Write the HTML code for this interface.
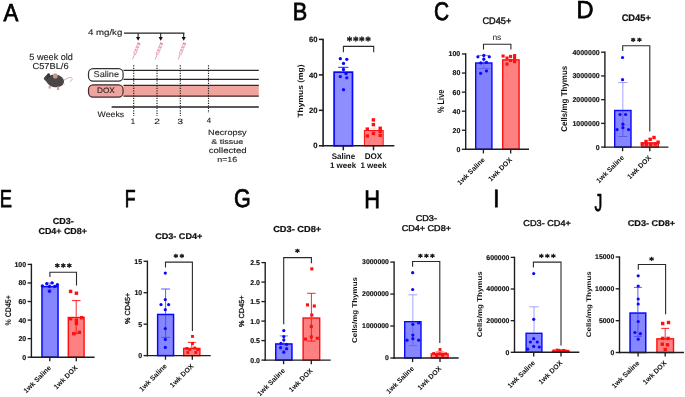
<!DOCTYPE html>
<html><head><meta charset="utf-8"><style>
html,body{margin:0;padding:0;background:#fff;}
svg{display:block;font-family:"Liberation Sans", Arial, sans-serif;text-rendering:geometricPrecision;}
</style></head><body>
<svg width="685" height="397" viewBox="0 0 685 397">
<rect width="685" height="397" fill="#fff"/>
<text transform="translate(3.60 21.00) scale(0.904 1)" font-size="24.64" fill="#000" stroke="#000" stroke-width="0.75">A</text>
<text x="87.93" y="34.97" font-size="8.15" font-weight="normal" text-anchor="start" fill="#1a1a1a" textLength="34.40" lengthAdjust="spacingAndGlyphs" stroke="#222" stroke-width="0.12">4 mg/kg</text>
<line x1="124.00" y1="33.10" x2="184.40" y2="33.10" stroke="#222" stroke-width="1.3" />
<line x1="138.10" y1="33.10" x2="138.10" y2="37.60" stroke="#222" stroke-width="1.1" />
<polygon points="136.00,36.9 140.20,36.9 138.10,40.7" fill="#111"/>
<line x1="160.70" y1="33.10" x2="160.70" y2="37.60" stroke="#222" stroke-width="1.1" />
<polygon points="158.60,36.9 162.80,36.9 160.70,40.7" fill="#111"/>
<line x1="183.70" y1="33.10" x2="183.70" y2="37.60" stroke="#222" stroke-width="1.1" />
<polygon points="181.60,36.9 185.80,36.9 183.70,40.7" fill="#111"/>
<g transform="translate(139.00 43.0) rotate(21.5)"><rect x="-1.1" y="0.8" width="2.2" height="11.2" fill="#fbe6ec" stroke="#c83a63" stroke-width="0.5" stroke-dasharray="1.1 0.7"/><line x1="-1.6" y1="0.4" x2="1.6" y2="0.4" stroke="#c83a63" stroke-width="0.6"/><line x1="-0.9" y1="4.5" x2="0.9" y2="4.5" stroke="#d4567c" stroke-width="0.5"/><line x1="-0.9" y1="8" x2="0.9" y2="8" stroke="#d4567c" stroke-width="0.5"/><line x1="0" y1="12" x2="0" y2="17.6" stroke="#d06a8a" stroke-width="0.55"/></g>
<g transform="translate(161.60 43.0) rotate(21.5)"><rect x="-1.1" y="0.8" width="2.2" height="11.2" fill="#fbe6ec" stroke="#c83a63" stroke-width="0.5" stroke-dasharray="1.1 0.7"/><line x1="-1.6" y1="0.4" x2="1.6" y2="0.4" stroke="#c83a63" stroke-width="0.6"/><line x1="-0.9" y1="4.5" x2="0.9" y2="4.5" stroke="#d4567c" stroke-width="0.5"/><line x1="-0.9" y1="8" x2="0.9" y2="8" stroke="#d4567c" stroke-width="0.5"/><line x1="0" y1="12" x2="0" y2="17.6" stroke="#d06a8a" stroke-width="0.55"/></g>
<g transform="translate(184.60 43.0) rotate(21.5)"><rect x="-1.1" y="0.8" width="2.2" height="11.2" fill="#fbe6ec" stroke="#c83a63" stroke-width="0.5" stroke-dasharray="1.1 0.7"/><line x1="-1.6" y1="0.4" x2="1.6" y2="0.4" stroke="#c83a63" stroke-width="0.6"/><line x1="-0.9" y1="4.5" x2="0.9" y2="4.5" stroke="#d4567c" stroke-width="0.5"/><line x1="-0.9" y1="8" x2="0.9" y2="8" stroke="#d4567c" stroke-width="0.5"/><line x1="0" y1="12" x2="0" y2="17.6" stroke="#d06a8a" stroke-width="0.55"/></g>
<line x1="123.50" y1="70.40" x2="258.80" y2="70.40" stroke="#2a2a2a" stroke-width="1.2" />
<line x1="123.50" y1="79.40" x2="258.80" y2="79.40" stroke="#2a2a2a" stroke-width="1.2" />
<rect x="123.50" y="85.00" width="135.30" height="11.40" fill="#efa59e" stroke="none" stroke-width="0" />
<line x1="123.50" y1="85.40" x2="258.80" y2="85.40" stroke="#3a2828" stroke-width="1.2" />
<line x1="123.50" y1="96.10" x2="258.80" y2="96.10" stroke="#3a2828" stroke-width="1.3" />
<rect x="88.5" y="68.7" width="34.6" height="12.5" rx="4.6" fill="#fff" stroke="#333" stroke-width="1.2"/>
<rect x="88.5" y="84.8" width="34.6" height="12.3" rx="4.6" fill="#efa59e" stroke="#3a2a2a" stroke-width="1.2"/>
<text x="93.56" y="77.40" font-size="8.46" font-weight="normal" text-anchor="start" fill="#333" textLength="25.47" lengthAdjust="spacingAndGlyphs" stroke="#222" stroke-width="0.12">Saline</text>
<text x="97.07" y="93.00" font-size="7.83" font-weight="normal" text-anchor="start" fill="#2a1a1a" textLength="17.74" lengthAdjust="spacingAndGlyphs" stroke="#222" stroke-width="0.12">DOX</text>
<line x1="111.60" y1="107.00" x2="258.80" y2="107.00" stroke="#222" stroke-width="1.3" />
<text x="97.63" y="117.10" font-size="8.05" font-weight="normal" text-anchor="start" fill="#222" textLength="26.48" lengthAdjust="spacingAndGlyphs" stroke="#222" stroke-width="0.12">Weeks</text>
<line x1="133.70" y1="65.20" x2="133.70" y2="115.90" stroke="#222" stroke-width="1.15" stroke-dasharray="1.3 1.2"/>
<line x1="157.00" y1="65.20" x2="157.00" y2="115.90" stroke="#222" stroke-width="1.15" stroke-dasharray="1.3 1.2"/>
<line x1="180.30" y1="65.20" x2="180.30" y2="115.90" stroke="#222" stroke-width="1.15" stroke-dasharray="1.3 1.2"/>
<line x1="208.50" y1="65.20" x2="208.50" y2="112.90" stroke="#222" stroke-width="1.15" stroke-dasharray="1.3 1.2"/>
<text x="130.89" y="124.48" font-size="7.77" font-weight="normal" text-anchor="start" fill="#222" textLength="4.35" lengthAdjust="spacingAndGlyphs" stroke="#222" stroke-width="0.12">1</text>
<text x="154.21" y="124.48" font-size="7.66" font-weight="normal" text-anchor="start" fill="#222" textLength="5.64" lengthAdjust="spacingAndGlyphs" stroke="#222" stroke-width="0.12">2</text>
<text x="177.42" y="124.40" font-size="7.55" font-weight="normal" text-anchor="start" fill="#222" textLength="5.52" lengthAdjust="spacingAndGlyphs" stroke="#222" stroke-width="0.12">3</text>
<text x="206.76" y="122.96" font-size="7.59" font-weight="normal" text-anchor="start" fill="#222" textLength="4.32" lengthAdjust="spacingAndGlyphs" stroke="#222" stroke-width="0.12">4</text>
<text x="208.09" y="134.76" font-size="7.73" font-weight="normal" text-anchor="start" fill="#222" textLength="38.63" lengthAdjust="spacingAndGlyphs" stroke="#222" stroke-width="0.12">Necropsy</text>
<text x="211.36" y="143.91" font-size="6.84" font-weight="normal" text-anchor="start" fill="#222" textLength="31.84" lengthAdjust="spacingAndGlyphs" stroke="#222" stroke-width="0.12">&amp; tissue</text>
<text x="208.74" y="152.60" font-size="7.78" font-weight="normal" text-anchor="start" fill="#222" textLength="37.89" lengthAdjust="spacingAndGlyphs" stroke="#222" stroke-width="0.12">collected</text>
<text x="217.20" y="161.61" font-size="7.41" font-weight="normal" text-anchor="start" fill="#222" textLength="20.06" lengthAdjust="spacingAndGlyphs" stroke="#222" stroke-width="0.12">n=16</text>
<text x="29.36" y="59.79" font-size="9.14" font-weight="normal" text-anchor="start" fill="#222" textLength="43.58" lengthAdjust="spacingAndGlyphs" stroke="#222" stroke-width="0.12">5 week old</text>
<text x="32.56" y="68.79" font-size="8.73" font-weight="normal" text-anchor="start" fill="#222" textLength="36.01" lengthAdjust="spacingAndGlyphs" stroke="#222" stroke-width="0.12">C57BL/6</text>
<g>
<path d="M63.4,80.3 C66,79.4 67.8,77.6 70.4,77.5 C72.8,77.5 73.0,79.6 70.0,81.7" fill="none" stroke="#d9aeab" stroke-width="1.0"/>
<path d="M43.8,78.3 C45.0,76.2 46.6,74.6 48.3,74.0 L50.4,75.4 C52.4,74.4 55.2,74.0 58.2,75.1 C61.8,76.4 64.0,78.9 64.0,81.6 C64.0,84.6 61.6,86.6 58.6,87.0 C55.6,87.4 52.4,86.8 50.4,85.9 C48.3,84.6 46.8,82.4 45.6,80.8 C44.5,80.0 43.6,79.3 43.8,78.3 Z" fill="#4b4646"/>
<ellipse cx="55.3" cy="75.9" rx="2.3" ry="2.7" fill="#c79a97"/>
<ellipse cx="48.6" cy="75.4" rx="1.6" ry="2.1" fill="#3a3535"/>
<circle cx="47.4" cy="77.9" r="0.5" fill="#111"/>
<path d="M48.9,85.4 L48.5,88.4 L50.9,88.4 L50.6,85.8 Z" fill="#caa09d"/>
<path d="M57.2,86.6 L57.0,89.9 L59.3,89.9 L59.0,86.6 Z" fill="#caa09d"/>
<path d="M63.0,83.2 L64.6,84.4" stroke="#caa09d" stroke-width="0.8"/>
</g>
<text transform="translate(292.86 19.50) scale(0.876 1)" font-size="24.78" fill="#000" stroke="#000" stroke-width="0.75">B</text>
<line x1="343.30" y1="71.30" x2="343.30" y2="67.30" stroke="#0808ff" stroke-width="0.9" />
<line x1="338.20" y1="67.30" x2="348.40" y2="67.30" stroke="#0808ff" stroke-width="0.9" />
<rect x="334.10" y="72.15" width="18.40" height="73.65" fill="#8e8eff" stroke="#0808ff" stroke-width="1.7" />
<circle cx="340.30" cy="58.70" r="1.65" fill="#0808ff"/>
<circle cx="346.80" cy="59.30" r="1.65" fill="#0808ff"/>
<circle cx="343.50" cy="63.40" r="1.65" fill="#0808ff"/>
<circle cx="343.50" cy="69.50" r="1.65" fill="#0808ff"/>
<circle cx="346.00" cy="73.60" r="1.65" fill="#0808ff"/>
<circle cx="340.30" cy="76.60" r="1.65" fill="#0808ff"/>
<circle cx="346.80" cy="77.80" r="1.65" fill="#0808ff"/>
<circle cx="343.50" cy="89.70" r="1.65" fill="#0808ff"/>
<line x1="373.80" y1="130.00" x2="373.80" y2="128.30" stroke="#ffd6d6" stroke-width="0.9" />
<line x1="369.80" y1="128.30" x2="377.80" y2="128.30" stroke="#ffd6d6" stroke-width="0.9" />
<rect x="364.40" y="130.50" width="18.80" height="15.30" fill="#ff8080" stroke="#ff1010" stroke-width="1.0" />
<rect x="371.70" y="118.20" width="3.40" height="3.40" fill="#ff1010" stroke="none" stroke-width="0" />
<rect x="371.70" y="122.90" width="3.40" height="3.40" fill="#ff1010" stroke="none" stroke-width="0" />
<rect x="365.60" y="127.40" width="3.40" height="3.40" fill="#ff1010" stroke="none" stroke-width="0" />
<rect x="378.50" y="126.60" width="3.40" height="3.40" fill="#ff1010" stroke="none" stroke-width="0" />
<rect x="378.50" y="129.70" width="3.40" height="3.40" fill="#ff1010" stroke="none" stroke-width="0" />
<rect x="371.70" y="131.70" width="3.40" height="3.40" fill="#ff1010" stroke="none" stroke-width="0" />
<rect x="365.60" y="134.30" width="3.40" height="3.40" fill="#ff1010" stroke="none" stroke-width="0" />
<rect x="378.50" y="133.70" width="3.40" height="3.40" fill="#ff1010" stroke="none" stroke-width="0" />
<line x1="323.10" y1="38.64" x2="323.10" y2="146.60" stroke="#1e1e1e" stroke-width="1.6" />
<line x1="322.30" y1="145.80" x2="394.40" y2="145.80" stroke="#1e1e1e" stroke-width="1.6" />
<line x1="318.90" y1="145.80" x2="323.10" y2="145.80" stroke="#1e1e1e" stroke-width="1.52" />
<text x="317.56" y="148.46" font-size="7.70" font-weight="bold" text-anchor="end" fill="#111" stroke="#111" stroke-width="0.15">0</text>
<line x1="318.90" y1="110.33" x2="323.10" y2="110.33" stroke="#1e1e1e" stroke-width="1.52" />
<text x="317.53" y="112.99" font-size="7.70" font-weight="bold" text-anchor="end" fill="#111" stroke="#111" stroke-width="0.15">20</text>
<line x1="318.90" y1="74.87" x2="323.10" y2="74.87" stroke="#1e1e1e" stroke-width="1.52" />
<text x="317.53" y="77.52" font-size="7.70" font-weight="bold" text-anchor="end" fill="#111" stroke="#111" stroke-width="0.15">40</text>
<line x1="318.90" y1="39.40" x2="323.10" y2="39.40" stroke="#1e1e1e" stroke-width="1.52" />
<text x="317.53" y="42.06" font-size="7.70" font-weight="bold" text-anchor="end" fill="#111" stroke="#111" stroke-width="0.15">60</text>
<line x1="343.30" y1="145.80" x2="343.30" y2="150.30" stroke="#1e1e1e" stroke-width="1.52" />
<line x1="373.50" y1="145.80" x2="373.50" y2="150.30" stroke="#1e1e1e" stroke-width="1.52" />
<polyline points="343.40,52.30 343.40,46.40 373.70,46.40 373.70,52.30" fill="none" stroke="#2a2a2a" stroke-width="1.1"/>
<text x="358.80" y="44.29" font-size="9.78" font-weight="bold" text-anchor="middle" fill="#111" textLength="23.72" lengthAdjust="spacing" style="font-family:'DejaVu Sans',sans-serif" stroke="#111" stroke-width="0.5" stroke-linejoin="round">****</text>
<text x="303.48" y="117.56" font-size="7.62" font-weight="bold" text-anchor="start" fill="#111" transform="rotate(-90 303.48 117.56)" textLength="53.15" lengthAdjust="spacingAndGlyphs" >Thymus (mg)</text>
<text x="331.68" y="158.90" font-size="8.19" font-weight="bold" text-anchor="start" fill="#111" textLength="23.49" lengthAdjust="spacingAndGlyphs" >Saline</text>
<text x="329.94" y="167.70" font-size="7.92" font-weight="bold" text-anchor="start" fill="#111" textLength="26.14" lengthAdjust="spacingAndGlyphs" >1 week</text>
<text x="364.65" y="158.90" font-size="8.25" font-weight="bold" text-anchor="start" fill="#111" textLength="17.57" lengthAdjust="spacingAndGlyphs" >DOX</text>
<text x="360.44" y="167.70" font-size="7.92" font-weight="bold" text-anchor="start" fill="#111" textLength="26.14" lengthAdjust="spacingAndGlyphs" >1 week</text>
<text transform="translate(434.05 20.35) scale(0.822 1)" font-size="25.49" fill="#000" stroke="#000" stroke-width="0.75">C</text>
<text x="482.46" y="23.78" font-size="9.52" font-weight="normal" text-anchor="start" fill="#111" textLength="28.78" lengthAdjust="spacingAndGlyphs" stroke="#111" stroke-width="0.4">CD45+</text>
<line x1="483.80" y1="62.30" x2="483.80" y2="55.40" stroke="#6a6aff" stroke-width="0.8" />
<line x1="477.80" y1="55.40" x2="489.80" y2="55.40" stroke="#6a6aff" stroke-width="0.8" />
<rect x="475.70" y="63.00" width="16.20" height="86.30" fill="#8181ff" stroke="#0808ff" stroke-width="1.4" />
<line x1="483.80" y1="63.70" x2="483.80" y2="68.50" stroke="#5a5aff" stroke-width="0.8" />
<line x1="477.80" y1="68.50" x2="489.80" y2="68.50" stroke="#5a5aff" stroke-width="0.8" />
<circle cx="477.90" cy="56.80" r="1.6" fill="#0808ff"/>
<circle cx="483.80" cy="55.40" r="1.6" fill="#0808ff"/>
<circle cx="489.30" cy="56.80" r="1.6" fill="#0808ff"/>
<circle cx="483.80" cy="59.20" r="1.6" fill="#0808ff"/>
<circle cx="480.80" cy="62.90" r="1.6" fill="#0808ff"/>
<circle cx="486.50" cy="62.30" r="1.6" fill="#0808ff"/>
<circle cx="486.50" cy="70.90" r="1.6" fill="#0808ff"/>
<circle cx="480.60" cy="73.30" r="1.6" fill="#0808ff"/>
<rect x="502.70" y="59.90" width="16.40" height="89.40" fill="#ff8080" stroke="#ff1010" stroke-width="1.4" />
<rect x="501.55" y="54.45" width="3.10" height="3.10" fill="#ff1010" stroke="none" stroke-width="0" />
<rect x="505.45" y="56.45" width="3.10" height="3.10" fill="#ff1010" stroke="none" stroke-width="0" />
<rect x="509.05" y="54.85" width="3.10" height="3.10" fill="#ff1010" stroke="none" stroke-width="0" />
<rect x="513.05" y="54.05" width="3.10" height="3.10" fill="#ff1010" stroke="none" stroke-width="0" />
<rect x="513.05" y="56.85" width="3.10" height="3.10" fill="#ff1010" stroke="none" stroke-width="0" />
<rect x="513.05" y="60.15" width="3.10" height="3.10" fill="#ff1010" stroke="none" stroke-width="0" />
<rect x="509.05" y="58.85" width="3.10" height="3.10" fill="#ff1010" stroke="none" stroke-width="0" />
<rect x="505.45" y="62.55" width="3.10" height="3.10" fill="#ff1010" stroke="none" stroke-width="0" />
<line x1="465.70" y1="53.34" x2="465.70" y2="150.00" stroke="#1e1e1e" stroke-width="1.4" />
<line x1="465.00" y1="149.30" x2="529.00" y2="149.30" stroke="#1e1e1e" stroke-width="1.4" />
<line x1="461.90" y1="149.30" x2="465.70" y2="149.30" stroke="#1e1e1e" stroke-width="1.3299999999999998" />
<text x="460.32" y="151.72" font-size="7.00" font-weight="bold" text-anchor="end" fill="#111" stroke="#111" stroke-width="0.15">0</text>
<line x1="461.90" y1="130.24" x2="465.70" y2="130.24" stroke="#1e1e1e" stroke-width="1.3299999999999998" />
<text x="460.30" y="132.66" font-size="7.00" font-weight="bold" text-anchor="end" fill="#111" stroke="#111" stroke-width="0.15">20</text>
<line x1="461.90" y1="111.18" x2="465.70" y2="111.18" stroke="#1e1e1e" stroke-width="1.3299999999999998" />
<text x="460.30" y="113.60" font-size="7.00" font-weight="bold" text-anchor="end" fill="#111" stroke="#111" stroke-width="0.15">40</text>
<line x1="461.90" y1="92.12" x2="465.70" y2="92.12" stroke="#1e1e1e" stroke-width="1.3299999999999998" />
<text x="460.30" y="94.54" font-size="7.00" font-weight="bold" text-anchor="end" fill="#111" stroke="#111" stroke-width="0.15">60</text>
<line x1="461.90" y1="73.06" x2="465.70" y2="73.06" stroke="#1e1e1e" stroke-width="1.3299999999999998" />
<text x="460.30" y="75.48" font-size="7.00" font-weight="bold" text-anchor="end" fill="#111" stroke="#111" stroke-width="0.15">80</text>
<line x1="461.90" y1="54.00" x2="465.70" y2="54.00" stroke="#1e1e1e" stroke-width="1.3299999999999998" />
<text x="460.27" y="56.41" font-size="7.00" font-weight="bold" text-anchor="end" fill="#111" stroke="#111" stroke-width="0.15">100</text>
<line x1="483.40" y1="149.30" x2="483.40" y2="153.40" stroke="#1e1e1e" stroke-width="1.3299999999999998" />
<line x1="510.70" y1="149.30" x2="510.70" y2="153.40" stroke="#1e1e1e" stroke-width="1.3299999999999998" />
<text x="485.20" y="160.30" font-size="7.00" font-weight="bold" text-anchor="end" fill="#111" transform="rotate(-45 485.20 160.30)" >1wk Saline</text>
<text x="512.50" y="160.30" font-size="7.00" font-weight="bold" text-anchor="end" fill="#111" transform="rotate(-45 512.50 160.30)" >1wk DOX</text>
<polyline points="483.50,49.50 483.50,44.30 510.90,44.30 510.90,49.50" fill="none" stroke="#2a2a2a" stroke-width="1.1"/>
<text x="492.43" y="39.80" font-size="8.29" font-weight="normal" text-anchor="start" fill="#111" textLength="8.85" lengthAdjust="spacingAndGlyphs" >ns</text>
<text x="443.99" y="113.10" font-size="9.41" font-weight="bold" text-anchor="start" fill="#111" transform="rotate(-90 443.99 113.10)" textLength="23.57" lengthAdjust="spacingAndGlyphs" >% Live</text>
<text transform="translate(576.52 18.30) scale(0.956 1)" font-size="24.64" fill="#000" stroke="#000" stroke-width="0.75">D</text>
<text x="621.65" y="20.58" font-size="9.52" font-weight="bold" text-anchor="start" fill="#111" textLength="29.21" lengthAdjust="spacingAndGlyphs" stroke="#111" stroke-width="0.22">CD45+</text>
<line x1="622.85" y1="109.80" x2="622.85" y2="82.50" stroke="#8c8cff" stroke-width="0.8" />
<line x1="618.25" y1="82.50" x2="627.45" y2="82.50" stroke="#8c8cff" stroke-width="0.8" />
<rect x="614.70" y="110.50" width="16.30" height="36.60" fill="#8686ff" stroke="#0808ff" stroke-width="1.4" />
<line x1="622.85" y1="111.20" x2="622.85" y2="136.50" stroke="#5050ee" stroke-width="0.8" />
<line x1="618.25" y1="136.50" x2="627.45" y2="136.50" stroke="#5050ee" stroke-width="0.8" />
<circle cx="622.55" cy="57.50" r="1.6" fill="#0808ff"/>
<circle cx="622.55" cy="79.70" r="1.6" fill="#0808ff"/>
<circle cx="620.00" cy="114.50" r="1.6" fill="#0808ff"/>
<circle cx="625.60" cy="114.50" r="1.6" fill="#0808ff"/>
<circle cx="622.90" cy="124.20" r="1.6" fill="#0808ff"/>
<circle cx="622.90" cy="127.70" r="1.6" fill="#0808ff"/>
<circle cx="617.10" cy="129.60" r="1.6" fill="#0808ff"/>
<circle cx="628.50" cy="129.60" r="1.6" fill="#0808ff"/>
<rect x="641.70" y="142.90" width="16.60" height="4.20" fill="#ff8080" stroke="#ff1010" stroke-width="1.4" />
<rect x="652.30" y="135.80" width="3.40" height="3.40" fill="#ff1010" stroke="none" stroke-width="0" />
<rect x="648.50" y="137.60" width="3.40" height="3.40" fill="#ff1010" stroke="none" stroke-width="0" />
<rect x="644.30" y="139.80" width="3.40" height="3.40" fill="#ff1010" stroke="none" stroke-width="0" />
<rect x="640.50" y="142.30" width="3.40" height="3.40" fill="#ff1010" stroke="none" stroke-width="0" />
<rect x="644.70" y="142.60" width="3.40" height="3.40" fill="#ff1010" stroke="none" stroke-width="0" />
<rect x="649.10" y="142.60" width="3.40" height="3.40" fill="#ff1010" stroke="none" stroke-width="0" />
<rect x="653.50" y="142.30" width="3.40" height="3.40" fill="#ff1010" stroke="none" stroke-width="0" />
<rect x="656.40" y="140.50" width="3.40" height="3.40" fill="#ff1010" stroke="none" stroke-width="0" />
<line x1="604.90" y1="51.54" x2="604.90" y2="147.80" stroke="#1e1e1e" stroke-width="1.4" />
<line x1="604.20" y1="147.10" x2="668.40" y2="147.10" stroke="#1e1e1e" stroke-width="1.4" />
<line x1="601.10" y1="147.10" x2="604.90" y2="147.10" stroke="#1e1e1e" stroke-width="1.3299999999999998" />
<text x="599.72" y="149.51" font-size="7.00" font-weight="bold" text-anchor="end" fill="#111" stroke="#111" stroke-width="0.15">0</text>
<line x1="601.10" y1="123.38" x2="604.90" y2="123.38" stroke="#1e1e1e" stroke-width="1.3299999999999998" />
<text x="599.70" y="125.79" font-size="7.00" font-weight="bold" text-anchor="end" fill="#111" stroke="#111" stroke-width="0.15">1000000</text>
<line x1="601.10" y1="99.65" x2="604.90" y2="99.65" stroke="#1e1e1e" stroke-width="1.3299999999999998" />
<text x="599.70" y="102.07" font-size="7.00" font-weight="bold" text-anchor="end" fill="#111" stroke="#111" stroke-width="0.15">2000000</text>
<line x1="601.10" y1="75.92" x2="604.90" y2="75.92" stroke="#1e1e1e" stroke-width="1.3299999999999998" />
<text x="599.70" y="78.34" font-size="7.00" font-weight="bold" text-anchor="end" fill="#111" stroke="#111" stroke-width="0.15">3000000</text>
<line x1="601.10" y1="52.20" x2="604.90" y2="52.20" stroke="#1e1e1e" stroke-width="1.3299999999999998" />
<text x="599.70" y="54.62" font-size="7.00" font-weight="bold" text-anchor="end" fill="#111" stroke="#111" stroke-width="0.15">4000000</text>
<line x1="622.60" y1="147.10" x2="622.60" y2="151.20" stroke="#1e1e1e" stroke-width="1.3299999999999998" />
<line x1="649.80" y1="147.10" x2="649.80" y2="151.20" stroke="#1e1e1e" stroke-width="1.3299999999999998" />
<text x="624.40" y="158.10" font-size="7.00" font-weight="bold" text-anchor="end" fill="#111" transform="rotate(-45 624.40 158.10)" >1wk Saline</text>
<text x="651.60" y="158.10" font-size="7.00" font-weight="bold" text-anchor="end" fill="#111" transform="rotate(-45 651.60 158.10)" >1wk DOX</text>
<polyline points="622.70,51.10 622.70,45.80 649.80,45.80 649.80,131.50" fill="none" stroke="#2a2a2a" stroke-width="1.1"/>
<text x="636.35" y="43.96" font-size="8.26" font-weight="bold" text-anchor="middle" fill="#111" textLength="10.52" lengthAdjust="spacing" style="font-family:'DejaVu Sans',sans-serif" stroke="#111" stroke-width="0.5" stroke-linejoin="round">**</text>
<text x="567.22" y="131.80" font-size="8.36" font-weight="bold" text-anchor="start" fill="#111" transform="rotate(-90 567.22 131.80)" textLength="66.00" lengthAdjust="spacingAndGlyphs" >Cells/mg Thymus</text>
<text transform="translate(-0.37 206.90) scale(0.744 1)" font-size="24.64" fill="#000" stroke="#000" stroke-width="0.75">E</text>
<text x="52.76" y="223.89" font-size="8.68" font-weight="bold" text-anchor="start" fill="#111" textLength="21.01" lengthAdjust="spacingAndGlyphs" stroke="#111" stroke-width="0.22">CD3-</text>
<text x="38.46" y="234.39" font-size="8.68" font-weight="bold" text-anchor="start" fill="#111" textLength="48.44" lengthAdjust="spacingAndGlyphs" stroke="#111" stroke-width="0.22">CD4+ CD8+</text>
<line x1="50.00" y1="285.90" x2="50.00" y2="283.00" stroke="#6a6aff" stroke-width="0.8" />
<line x1="46.00" y1="283.00" x2="54.00" y2="283.00" stroke="#6a6aff" stroke-width="0.8" />
<rect x="41.95" y="286.65" width="16.10" height="70.55" fill="#8686ff" stroke="#0808ff" stroke-width="1.5" />
<line x1="50.00" y1="287.40" x2="50.00" y2="289.50" stroke="#6a6aff" stroke-width="0.8" />
<line x1="46.00" y1="289.50" x2="54.00" y2="289.50" stroke="#6a6aff" stroke-width="0.8" />
<circle cx="46.80" cy="283.80" r="1.7" fill="#0808ff"/>
<circle cx="52.10" cy="282.90" r="1.7" fill="#0808ff"/>
<circle cx="57.40" cy="284.70" r="1.7" fill="#0808ff"/>
<circle cx="42.40" cy="285.90" r="1.7" fill="#0808ff"/>
<circle cx="49.50" cy="286.50" r="1.7" fill="#0808ff"/>
<circle cx="54.70" cy="286.50" r="1.7" fill="#0808ff"/>
<circle cx="49.50" cy="291.20" r="1.7" fill="#0808ff"/>
<line x1="76.20" y1="316.80" x2="76.20" y2="300.60" stroke="#ff1010" stroke-width="0.9" />
<line x1="71.80" y1="300.60" x2="80.60" y2="300.60" stroke="#ff1010" stroke-width="0.9" />
<rect x="68.30" y="317.50" width="15.80" height="39.70" fill="#ff8080" stroke="#ff1010" stroke-width="1.4" />
<line x1="76.20" y1="318.20" x2="76.20" y2="333.50" stroke="#ff1010" stroke-width="0.9" />
<line x1="71.80" y1="333.50" x2="80.60" y2="333.50" stroke="#ff1010" stroke-width="0.9" />
<rect x="68.90" y="289.70" width="3.40" height="3.40" fill="#ff1010" stroke="none" stroke-width="0" />
<rect x="74.70" y="291.50" width="3.40" height="3.40" fill="#ff1010" stroke="none" stroke-width="0" />
<rect x="68.90" y="317.00" width="3.40" height="3.40" fill="#ff1010" stroke="none" stroke-width="0" />
<rect x="74.70" y="318.80" width="3.40" height="3.40" fill="#ff1010" stroke="none" stroke-width="0" />
<rect x="80.00" y="316.00" width="3.40" height="3.40" fill="#ff1010" stroke="none" stroke-width="0" />
<rect x="74.70" y="321.80" width="3.40" height="3.40" fill="#ff1010" stroke="none" stroke-width="0" />
<rect x="72.10" y="332.00" width="3.40" height="3.40" fill="#ff1010" stroke="none" stroke-width="0" />
<rect x="77.70" y="330.60" width="3.40" height="3.40" fill="#ff1010" stroke="none" stroke-width="0" />
<line x1="31.40" y1="263.73" x2="31.40" y2="357.90" stroke="#1e1e1e" stroke-width="1.4" />
<line x1="30.70" y1="357.20" x2="94.60" y2="357.20" stroke="#1e1e1e" stroke-width="1.4" />
<line x1="27.60" y1="357.20" x2="31.40" y2="357.20" stroke="#1e1e1e" stroke-width="1.3299999999999998" />
<text x="26.22" y="359.62" font-size="7.00" font-weight="bold" text-anchor="end" fill="#111" stroke="#111" stroke-width="0.15">0</text>
<line x1="27.60" y1="338.64" x2="31.40" y2="338.64" stroke="#1e1e1e" stroke-width="1.3299999999999998" />
<text x="26.20" y="341.06" font-size="7.00" font-weight="bold" text-anchor="end" fill="#111" stroke="#111" stroke-width="0.15">20</text>
<line x1="27.60" y1="320.08" x2="31.40" y2="320.08" stroke="#1e1e1e" stroke-width="1.3299999999999998" />
<text x="26.20" y="322.50" font-size="7.00" font-weight="bold" text-anchor="end" fill="#111" stroke="#111" stroke-width="0.15">40</text>
<line x1="27.60" y1="301.52" x2="31.40" y2="301.52" stroke="#1e1e1e" stroke-width="1.3299999999999998" />
<text x="26.20" y="303.94" font-size="7.00" font-weight="bold" text-anchor="end" fill="#111" stroke="#111" stroke-width="0.15">60</text>
<line x1="27.60" y1="282.96" x2="31.40" y2="282.96" stroke="#1e1e1e" stroke-width="1.3299999999999998" />
<text x="26.20" y="285.38" font-size="7.00" font-weight="bold" text-anchor="end" fill="#111" stroke="#111" stroke-width="0.15">80</text>
<line x1="27.60" y1="264.40" x2="31.40" y2="264.40" stroke="#1e1e1e" stroke-width="1.3299999999999998" />
<text x="26.17" y="266.81" font-size="7.00" font-weight="bold" text-anchor="end" fill="#111" stroke="#111" stroke-width="0.15">100</text>
<line x1="49.80" y1="357.20" x2="49.80" y2="361.30" stroke="#1e1e1e" stroke-width="1.3299999999999998" />
<line x1="76.30" y1="357.20" x2="76.30" y2="361.30" stroke="#1e1e1e" stroke-width="1.3299999999999998" />
<text x="51.60" y="368.20" font-size="7.00" font-weight="bold" text-anchor="end" fill="#111" transform="rotate(-45 51.60 368.20)" >1wk Saline</text>
<text x="78.10" y="368.20" font-size="7.00" font-weight="bold" text-anchor="end" fill="#111" transform="rotate(-45 78.10 368.20)" >1wk DOX</text>
<polyline points="49.90,277.00 49.90,272.30 76.50,272.30 76.50,285.60" fill="none" stroke="#2a2a2a" stroke-width="1.1"/>
<text x="63.25" y="270.03" font-size="8.70" font-weight="bold" text-anchor="middle" fill="#111" textLength="16.75" lengthAdjust="spacing" style="font-family:'DejaVu Sans',sans-serif" stroke="#111" stroke-width="0.5" stroke-linejoin="round">***</text>
<text x="11.20" y="325.59" font-size="8.25" font-weight="bold" text-anchor="start" fill="#111" transform="rotate(-90 11.20 325.59)" textLength="30.54" lengthAdjust="spacingAndGlyphs" >% CD45+</text>
<text transform="translate(124.68 207.10) scale(0.721 1)" font-size="24.64" fill="#000" stroke="#000" stroke-width="0.75">F</text>
<text x="155.16" y="238.80" font-size="8.25" font-weight="bold" text-anchor="start" fill="#111" textLength="47.15" lengthAdjust="spacingAndGlyphs" stroke="#111" stroke-width="0.22">CD3- CD4+</text>
<line x1="165.60" y1="313.70" x2="165.60" y2="289.00" stroke="#4848ff" stroke-width="0.9" />
<line x1="161.10" y1="289.00" x2="170.10" y2="289.00" stroke="#4848ff" stroke-width="0.9" />
<rect x="157.65" y="314.45" width="15.90" height="41.15" fill="#8686ff" stroke="#0808ff" stroke-width="1.5" />
<line x1="165.60" y1="315.20" x2="165.60" y2="337.40" stroke="#4848ff" stroke-width="0.9" />
<line x1="161.10" y1="337.40" x2="170.10" y2="337.40" stroke="#4848ff" stroke-width="0.9" />
<circle cx="165.30" cy="273.10" r="1.6" fill="#0808ff"/>
<circle cx="165.30" cy="299.60" r="1.6" fill="#0808ff"/>
<circle cx="161.00" cy="304.60" r="1.6" fill="#0808ff"/>
<circle cx="168.60" cy="304.60" r="1.6" fill="#0808ff"/>
<circle cx="165.30" cy="309.70" r="1.6" fill="#0808ff"/>
<circle cx="165.30" cy="328.60" r="1.6" fill="#0808ff"/>
<circle cx="165.30" cy="339.40" r="1.6" fill="#0808ff"/>
<circle cx="165.30" cy="347.40" r="1.6" fill="#0808ff"/>
<line x1="191.80" y1="347.70" x2="191.80" y2="342.40" stroke="#ff1010" stroke-width="0.9" />
<line x1="187.80" y1="342.40" x2="195.80" y2="342.40" stroke="#ff1010" stroke-width="0.9" />
<rect x="183.70" y="348.40" width="16.20" height="7.20" fill="#ff8080" stroke="#ff1010" stroke-width="1.4" />
<rect x="191.05" y="334.95" width="2.90" height="2.90" fill="#ff1010" stroke="none" stroke-width="0" />
<rect x="191.05" y="342.05" width="2.90" height="2.90" fill="#ff1010" stroke="none" stroke-width="0" />
<rect x="185.35" y="347.05" width="2.90" height="2.90" fill="#ff1010" stroke="none" stroke-width="0" />
<rect x="188.35" y="348.05" width="2.90" height="2.90" fill="#ff1010" stroke="none" stroke-width="0" />
<rect x="193.35" y="346.55" width="2.90" height="2.90" fill="#ff1010" stroke="none" stroke-width="0" />
<rect x="196.35" y="348.05" width="2.90" height="2.90" fill="#ff1010" stroke="none" stroke-width="0" />
<rect x="186.35" y="351.05" width="2.90" height="2.90" fill="#ff1010" stroke="none" stroke-width="0" />
<rect x="194.35" y="351.05" width="2.90" height="2.90" fill="#ff1010" stroke="none" stroke-width="0" />
<line x1="147.40" y1="260.63" x2="147.40" y2="356.30" stroke="#1e1e1e" stroke-width="1.4" />
<line x1="146.70" y1="355.60" x2="210.70" y2="355.60" stroke="#1e1e1e" stroke-width="1.4" />
<line x1="143.60" y1="355.60" x2="147.40" y2="355.60" stroke="#1e1e1e" stroke-width="1.3299999999999998" />
<text x="142.22" y="358.02" font-size="7.00" font-weight="bold" text-anchor="end" fill="#111" stroke="#111" stroke-width="0.15">0</text>
<line x1="143.60" y1="324.17" x2="147.40" y2="324.17" stroke="#1e1e1e" stroke-width="1.3299999999999998" />
<text x="142.08" y="326.55" font-size="7.00" font-weight="bold" text-anchor="end" fill="#111" stroke="#111" stroke-width="0.15">5</text>
<line x1="143.60" y1="292.73" x2="147.40" y2="292.73" stroke="#1e1e1e" stroke-width="1.3299999999999998" />
<text x="142.20" y="295.15" font-size="7.00" font-weight="bold" text-anchor="end" fill="#111" stroke="#111" stroke-width="0.15">10</text>
<line x1="143.60" y1="261.30" x2="147.40" y2="261.30" stroke="#1e1e1e" stroke-width="1.3299999999999998" />
<text x="142.13" y="263.68" font-size="7.00" font-weight="bold" text-anchor="end" fill="#111" stroke="#111" stroke-width="0.15">15</text>
<line x1="165.50" y1="355.60" x2="165.50" y2="359.70" stroke="#1e1e1e" stroke-width="1.3299999999999998" />
<line x1="192.30" y1="355.60" x2="192.30" y2="359.70" stroke="#1e1e1e" stroke-width="1.3299999999999998" />
<text x="167.30" y="366.60" font-size="7.00" font-weight="bold" text-anchor="end" fill="#111" transform="rotate(-45 167.30 366.60)" >1wk Saline</text>
<text x="194.10" y="366.60" font-size="7.00" font-weight="bold" text-anchor="end" fill="#111" transform="rotate(-45 194.10 366.60)" >1wk DOX</text>
<polyline points="165.50,267.60 165.50,262.10 192.40,262.10 192.40,331.00" fill="none" stroke="#2a2a2a" stroke-width="1.1"/>
<text x="178.80" y="260.10" font-size="8.04" font-weight="bold" text-anchor="middle" fill="#111" textLength="10.11" lengthAdjust="spacing" style="font-family:'DejaVu Sans',sans-serif" stroke="#111" stroke-width="0.5" stroke-linejoin="round">**</text>
<text x="130.21" y="323.97" font-size="7.27" font-weight="normal" text-anchor="start" fill="#111" transform="rotate(-90 130.21 323.97)" textLength="31.19" lengthAdjust="spacingAndGlyphs" stroke="#111" stroke-width="0.3">% CD45+</text>
<text transform="translate(234.02 207.25) scale(0.845 1)" font-size="25.49" fill="#000" stroke="#000" stroke-width="0.75">G</text>
<text x="273.15" y="231.59" font-size="8.68" font-weight="bold" text-anchor="start" fill="#111" textLength="48.06" lengthAdjust="spacingAndGlyphs" stroke="#111" stroke-width="0.22">CD3- CD8+</text>
<line x1="283.85" y1="343.20" x2="283.85" y2="335.90" stroke="#7070ff" stroke-width="0.9" />
<line x1="279.60" y1="335.90" x2="288.10" y2="335.90" stroke="#7070ff" stroke-width="0.9" />
<rect x="275.75" y="343.95" width="16.20" height="16.15" fill="#8686ff" stroke="#0808ff" stroke-width="1.5" />
<line x1="283.85" y1="344.70" x2="283.85" y2="350.40" stroke="#7070ff" stroke-width="0.9" />
<line x1="279.60" y1="350.40" x2="288.10" y2="350.40" stroke="#7070ff" stroke-width="0.9" />
<circle cx="283.80" cy="330.60" r="1.6" fill="#0808ff"/>
<circle cx="283.80" cy="336.60" r="1.6" fill="#0808ff"/>
<circle cx="283.80" cy="339.90" r="1.6" fill="#0808ff"/>
<circle cx="280.90" cy="343.40" r="1.6" fill="#0808ff"/>
<circle cx="286.60" cy="344.40" r="1.6" fill="#0808ff"/>
<circle cx="280.60" cy="347.70" r="1.6" fill="#0808ff"/>
<circle cx="286.60" cy="348.70" r="1.6" fill="#0808ff"/>
<circle cx="283.80" cy="352.20" r="1.6" fill="#0808ff"/>
<line x1="311.40" y1="317.30" x2="311.40" y2="293.30" stroke="#ff1010" stroke-width="0.9" />
<line x1="307.15" y1="293.30" x2="315.65" y2="293.30" stroke="#ff1010" stroke-width="0.9" />
<rect x="303.10" y="318.00" width="16.60" height="42.10" fill="#ff8080" stroke="#ff1010" stroke-width="1.4" />
<line x1="311.40" y1="318.70" x2="311.40" y2="341.10" stroke="#ff1010" stroke-width="0.9" />
<line x1="307.15" y1="341.10" x2="315.65" y2="341.10" stroke="#ff1010" stroke-width="0.9" />
<rect x="310.25" y="267.35" width="3.10" height="3.10" fill="#ff1010" stroke="none" stroke-width="0" />
<rect x="305.95" y="303.35" width="3.10" height="3.10" fill="#ff1010" stroke="none" stroke-width="0" />
<rect x="312.75" y="304.45" width="3.10" height="3.10" fill="#ff1010" stroke="none" stroke-width="0" />
<rect x="310.25" y="313.45" width="3.10" height="3.10" fill="#ff1010" stroke="none" stroke-width="0" />
<rect x="309.75" y="324.95" width="3.10" height="3.10" fill="#ff1010" stroke="none" stroke-width="0" />
<rect x="309.75" y="335.35" width="3.10" height="3.10" fill="#ff1010" stroke="none" stroke-width="0" />
<rect x="303.95" y="337.55" width="3.10" height="3.10" fill="#ff1010" stroke="none" stroke-width="0" />
<rect x="315.75" y="336.75" width="3.10" height="3.10" fill="#ff1010" stroke="none" stroke-width="0" />
<line x1="265.20" y1="261.94" x2="265.20" y2="360.80" stroke="#1e1e1e" stroke-width="1.4" />
<line x1="264.50" y1="360.10" x2="330.70" y2="360.10" stroke="#1e1e1e" stroke-width="1.4" />
<line x1="261.40" y1="360.10" x2="265.20" y2="360.10" stroke="#1e1e1e" stroke-width="1.3299999999999998" />
<text x="259.98" y="362.52" font-size="7.00" font-weight="bold" text-anchor="end" fill="#111" stroke="#111" stroke-width="0.15">0.0</text>
<line x1="261.40" y1="340.60" x2="265.20" y2="340.60" stroke="#1e1e1e" stroke-width="1.3299999999999998" />
<text x="259.91" y="343.02" font-size="7.00" font-weight="bold" text-anchor="end" fill="#111" stroke="#111" stroke-width="0.15">0.5</text>
<line x1="261.40" y1="321.10" x2="265.20" y2="321.10" stroke="#1e1e1e" stroke-width="1.3299999999999998" />
<text x="259.98" y="323.52" font-size="7.00" font-weight="bold" text-anchor="end" fill="#111" stroke="#111" stroke-width="0.15">1.0</text>
<line x1="261.40" y1="301.60" x2="265.20" y2="301.60" stroke="#1e1e1e" stroke-width="1.3299999999999998" />
<text x="259.91" y="303.98" font-size="7.00" font-weight="bold" text-anchor="end" fill="#111" stroke="#111" stroke-width="0.15">1.5</text>
<line x1="261.40" y1="282.10" x2="265.20" y2="282.10" stroke="#1e1e1e" stroke-width="1.3299999999999998" />
<text x="259.98" y="284.52" font-size="7.00" font-weight="bold" text-anchor="end" fill="#111" stroke="#111" stroke-width="0.15">2.0</text>
<line x1="261.40" y1="262.60" x2="265.20" y2="262.60" stroke="#1e1e1e" stroke-width="1.3299999999999998" />
<text x="259.91" y="265.02" font-size="7.00" font-weight="bold" text-anchor="end" fill="#111" stroke="#111" stroke-width="0.15">2.5</text>
<line x1="283.60" y1="360.10" x2="283.60" y2="364.20" stroke="#1e1e1e" stroke-width="1.3299999999999998" />
<line x1="311.30" y1="360.10" x2="311.30" y2="364.20" stroke="#1e1e1e" stroke-width="1.3299999999999998" />
<text x="285.40" y="371.10" font-size="7.00" font-weight="bold" text-anchor="end" fill="#111" transform="rotate(-45 285.40 371.10)" >1wk Saline</text>
<text x="313.10" y="371.10" font-size="7.00" font-weight="bold" text-anchor="end" fill="#111" transform="rotate(-45 313.10 371.10)" >1wk DOX</text>
<polyline points="283.70,324.30 283.70,257.60 311.40,257.60 311.40,263.20" fill="none" stroke="#2a2a2a" stroke-width="1.1"/>
<text x="297.50" y="255.41" font-size="8.26" font-weight="bold" text-anchor="middle" fill="#111" style="font-family:'DejaVu Sans',sans-serif" stroke="#111" stroke-width="0.5" stroke-linejoin="round">*</text>
<text x="243.81" y="326.97" font-size="7.27" font-weight="normal" text-anchor="start" fill="#111" transform="rotate(-90 243.81 326.97)" textLength="31.60" lengthAdjust="spacingAndGlyphs" stroke="#111" stroke-width="0.3">% CD45+</text>
<text transform="translate(364.36 207.50) scale(0.864 1)" font-size="25.22" fill="#000" stroke="#000" stroke-width="0.75">H</text>
<text x="415.66" y="220.80" font-size="8.39" font-weight="normal" text-anchor="start" fill="#111" textLength="21.31" lengthAdjust="spacingAndGlyphs" stroke="#111" stroke-width="0.4">CD3-</text>
<text x="401.67" y="231.30" font-size="8.39" font-weight="normal" text-anchor="start" fill="#111" textLength="49.34" lengthAdjust="spacingAndGlyphs" stroke="#111" stroke-width="0.4">CD4+ CD8+</text>
<line x1="412.85" y1="321.00" x2="412.85" y2="294.80" stroke="#8c8cff" stroke-width="0.8" />
<line x1="408.45" y1="294.80" x2="417.25" y2="294.80" stroke="#8c8cff" stroke-width="0.8" />
<rect x="404.70" y="321.70" width="16.30" height="36.30" fill="#8686ff" stroke="#0808ff" stroke-width="1.4" />
<line x1="412.85" y1="322.40" x2="412.85" y2="345.70" stroke="#6060ee" stroke-width="0.8" />
<line x1="408.45" y1="345.70" x2="417.25" y2="345.70" stroke="#6060ee" stroke-width="0.8" />
<circle cx="412.65" cy="272.70" r="1.6" fill="#0808ff"/>
<circle cx="412.65" cy="289.50" r="1.6" fill="#0808ff"/>
<circle cx="412.85" cy="324.30" r="1.6" fill="#0808ff"/>
<circle cx="418.65" cy="323.00" r="1.6" fill="#0808ff"/>
<circle cx="412.85" cy="335.10" r="1.6" fill="#0808ff"/>
<circle cx="412.85" cy="338.70" r="1.6" fill="#0808ff"/>
<circle cx="407.05" cy="340.20" r="1.6" fill="#0808ff"/>
<circle cx="418.65" cy="340.20" r="1.6" fill="#0808ff"/>
<line x1="439.70" y1="353.20" x2="439.70" y2="352.00" stroke="#ff1010" stroke-width="0.9" />
<line x1="435.70" y1="352.00" x2="443.70" y2="352.00" stroke="#ff1010" stroke-width="0.9" />
<rect x="431.30" y="353.90" width="16.80" height="4.10" fill="#ff8080" stroke="#ff1010" stroke-width="1.4" />
<rect x="438.55" y="348.05" width="2.90" height="2.90" fill="#ff1010" stroke="none" stroke-width="0" />
<rect x="432.25" y="352.05" width="2.90" height="2.90" fill="#ff1010" stroke="none" stroke-width="0" />
<rect x="435.25" y="353.05" width="2.90" height="2.90" fill="#ff1010" stroke="none" stroke-width="0" />
<rect x="438.25" y="352.55" width="2.90" height="2.90" fill="#ff1010" stroke="none" stroke-width="0" />
<rect x="441.25" y="353.05" width="2.90" height="2.90" fill="#ff1010" stroke="none" stroke-width="0" />
<rect x="444.25" y="352.35" width="2.90" height="2.90" fill="#ff1010" stroke="none" stroke-width="0" />
<rect x="435.25" y="354.05" width="2.90" height="2.90" fill="#ff1010" stroke="none" stroke-width="0" />
<rect x="441.25" y="354.05" width="2.90" height="2.90" fill="#ff1010" stroke="none" stroke-width="0" />
<line x1="394.10" y1="261.44" x2="394.10" y2="358.70" stroke="#1e1e1e" stroke-width="1.4" />
<line x1="393.40" y1="358.00" x2="458.70" y2="358.00" stroke="#1e1e1e" stroke-width="1.4" />
<line x1="390.30" y1="358.00" x2="394.10" y2="358.00" stroke="#1e1e1e" stroke-width="1.3299999999999998" />
<text x="388.92" y="360.38" font-size="6.90" font-weight="bold" text-anchor="end" fill="#111" stroke="#111" stroke-width="0.15">0</text>
<line x1="390.30" y1="326.03" x2="394.10" y2="326.03" stroke="#1e1e1e" stroke-width="1.3299999999999998" />
<text x="388.90" y="328.41" font-size="6.90" font-weight="bold" text-anchor="end" fill="#111" stroke="#111" stroke-width="0.15">1000000</text>
<line x1="390.30" y1="294.07" x2="394.10" y2="294.07" stroke="#1e1e1e" stroke-width="1.3299999999999998" />
<text x="388.90" y="296.45" font-size="6.90" font-weight="bold" text-anchor="end" fill="#111" stroke="#111" stroke-width="0.15">2000000</text>
<line x1="390.30" y1="262.10" x2="394.10" y2="262.10" stroke="#1e1e1e" stroke-width="1.3299999999999998" />
<text x="388.90" y="264.48" font-size="6.90" font-weight="bold" text-anchor="end" fill="#111" stroke="#111" stroke-width="0.15">3000000</text>
<line x1="412.60" y1="358.00" x2="412.60" y2="362.10" stroke="#1e1e1e" stroke-width="1.3299999999999998" />
<line x1="440.00" y1="358.00" x2="440.00" y2="362.10" stroke="#1e1e1e" stroke-width="1.3299999999999998" />
<text x="414.40" y="369.00" font-size="7.00" font-weight="bold" text-anchor="end" fill="#111" transform="rotate(-45 414.40 369.00)" >1wk Saline</text>
<text x="441.80" y="369.00" font-size="7.00" font-weight="bold" text-anchor="end" fill="#111" transform="rotate(-45 441.80 369.00)" >1wk DOX</text>
<polyline points="412.60,266.70 412.60,261.50 439.80,261.50 439.80,343.00" fill="none" stroke="#2a2a2a" stroke-width="1.1"/>
<text x="426.40" y="259.81" font-size="8.26" font-weight="bold" text-anchor="middle" fill="#111" textLength="16.52" lengthAdjust="spacing" style="font-family:'DejaVu Sans',sans-serif" stroke="#111" stroke-width="0.5" stroke-linejoin="round">***</text>
<text x="357.31" y="343.00" font-size="6.98" font-weight="bold" text-anchor="start" fill="#111" transform="rotate(-90 357.31 343.00)" textLength="66.00" lengthAdjust="spacingAndGlyphs" >Cells/mg Thymus</text>
<text transform="translate(493.32 206.90) scale(0.877 1)" font-size="25.07" fill="#000" stroke="#000" stroke-width="0.75">I</text>
<text x="523.36" y="225.89" font-size="8.54" font-weight="normal" text-anchor="start" fill="#111" textLength="47.54" lengthAdjust="spacingAndGlyphs" stroke="#111" stroke-width="0.4">CD3- CD4+</text>
<line x1="534.00" y1="332.60" x2="534.00" y2="306.80" stroke="#8c8cff" stroke-width="0.8" />
<line x1="529.30" y1="306.80" x2="538.70" y2="306.80" stroke="#8c8cff" stroke-width="0.8" />
<rect x="526.10" y="333.30" width="15.80" height="19.00" fill="#8686ff" stroke="#0808ff" stroke-width="1.4" />
<circle cx="533.70" cy="273.60" r="1.6" fill="#0808ff"/>
<circle cx="533.70" cy="319.30" r="1.6" fill="#0808ff"/>
<circle cx="533.70" cy="338.70" r="1.6" fill="#0808ff"/>
<circle cx="530.40" cy="342.00" r="1.6" fill="#0808ff"/>
<circle cx="537.30" cy="342.00" r="1.6" fill="#0808ff"/>
<circle cx="533.70" cy="346.40" r="1.6" fill="#0808ff"/>
<circle cx="527.60" cy="349.20" r="1.6" fill="#0808ff"/>
<circle cx="539.30" cy="347.00" r="1.6" fill="#0808ff"/>
<line x1="560.80" y1="350.60" x2="560.80" y2="350.00" stroke="#ff1010" stroke-width="0.9" />
<line x1="556.80" y1="350.00" x2="564.80" y2="350.00" stroke="#ff1010" stroke-width="0.9" />
<rect x="552.45" y="351.30" width="16.70" height="1.00" fill="#ff8080" stroke="#ff1010" stroke-width="1.4" />
<rect x="552.45" y="349.45" width="2.70" height="2.70" fill="#ff1010" stroke="none" stroke-width="0" />
<rect x="555.45" y="348.65" width="2.70" height="2.70" fill="#ff1010" stroke="none" stroke-width="0" />
<rect x="558.45" y="349.65" width="2.70" height="2.70" fill="#ff1010" stroke="none" stroke-width="0" />
<rect x="561.45" y="349.15" width="2.70" height="2.70" fill="#ff1010" stroke="none" stroke-width="0" />
<rect x="564.45" y="349.65" width="2.70" height="2.70" fill="#ff1010" stroke="none" stroke-width="0" />
<rect x="566.45" y="349.85" width="2.70" height="2.70" fill="#ff1010" stroke="none" stroke-width="0" />
<rect x="557.45" y="348.85" width="2.70" height="2.70" fill="#ff1010" stroke="none" stroke-width="0" />
<rect x="562.45" y="348.95" width="2.70" height="2.70" fill="#ff1010" stroke="none" stroke-width="0" />
<line x1="514.50" y1="256.73" x2="514.50" y2="353.00" stroke="#1e1e1e" stroke-width="1.4" />
<line x1="513.80" y1="352.30" x2="579.30" y2="352.30" stroke="#1e1e1e" stroke-width="1.4" />
<line x1="510.70" y1="352.30" x2="514.50" y2="352.30" stroke="#1e1e1e" stroke-width="1.3299999999999998" />
<text x="509.32" y="354.68" font-size="6.90" font-weight="bold" text-anchor="end" fill="#111" stroke="#111" stroke-width="0.15">0</text>
<line x1="510.70" y1="320.67" x2="514.50" y2="320.67" stroke="#1e1e1e" stroke-width="1.3299999999999998" />
<text x="509.32" y="323.05" font-size="6.90" font-weight="bold" text-anchor="end" fill="#111" stroke="#111" stroke-width="0.15">200000</text>
<line x1="510.70" y1="289.03" x2="514.50" y2="289.03" stroke="#1e1e1e" stroke-width="1.3299999999999998" />
<text x="509.32" y="291.41" font-size="6.90" font-weight="bold" text-anchor="end" fill="#111" stroke="#111" stroke-width="0.15">400000</text>
<line x1="510.70" y1="257.40" x2="514.50" y2="257.40" stroke="#1e1e1e" stroke-width="1.3299999999999998" />
<text x="509.32" y="259.78" font-size="6.90" font-weight="bold" text-anchor="end" fill="#111" stroke="#111" stroke-width="0.15">600000</text>
<line x1="533.70" y1="352.30" x2="533.70" y2="356.40" stroke="#1e1e1e" stroke-width="1.3299999999999998" />
<line x1="561.00" y1="352.30" x2="561.00" y2="356.40" stroke="#1e1e1e" stroke-width="1.3299999999999998" />
<text x="535.50" y="363.30" font-size="7.00" font-weight="bold" text-anchor="end" fill="#111" transform="rotate(-45 535.50 363.30)" >1wk Saline</text>
<text x="562.80" y="363.30" font-size="7.00" font-weight="bold" text-anchor="end" fill="#111" transform="rotate(-45 562.80 363.30)" >1wk DOX</text>
<polyline points="533.40,267.40 533.40,262.10 561.00,262.10 561.00,345.60" fill="none" stroke="#2a2a2a" stroke-width="1.1"/>
<text x="547.30" y="260.20" font-size="8.04" font-weight="bold" text-anchor="middle" fill="#111" textLength="16.21" lengthAdjust="spacing" style="font-family:'DejaVu Sans',sans-serif" stroke="#111" stroke-width="0.5" stroke-linejoin="round">***</text>
<text x="482.31" y="337.30" font-size="6.98" font-weight="bold" text-anchor="start" fill="#111" transform="rotate(-90 482.31 337.30)" textLength="66.10" lengthAdjust="spacingAndGlyphs" >Cells/mg Thymus</text>
<text transform="translate(594.49 211.25) scale(0.635 1)" font-size="24.57" fill="#000" stroke="#000" stroke-width="0.75">J</text>
<text x="627.75" y="225.80" font-size="8.39" font-weight="bold" text-anchor="start" fill="#111" textLength="47.45" lengthAdjust="spacingAndGlyphs" stroke="#111" stroke-width="0.22">CD3- CD8+</text>
<line x1="637.90" y1="312.30" x2="637.90" y2="287.40" stroke="#4848ff" stroke-width="0.9" />
<line x1="633.90" y1="287.40" x2="641.90" y2="287.40" stroke="#4848ff" stroke-width="0.9" />
<rect x="630.05" y="313.05" width="15.70" height="39.45" fill="#8686ff" stroke="#0808ff" stroke-width="1.5" />
<line x1="637.90" y1="313.80" x2="637.90" y2="336.40" stroke="#4848ff" stroke-width="0.9" />
<line x1="633.90" y1="336.40" x2="641.90" y2="336.40" stroke="#4848ff" stroke-width="0.9" />
<circle cx="638.20" cy="275.80" r="1.6" fill="#0808ff"/>
<circle cx="638.20" cy="286.00" r="1.6" fill="#0808ff"/>
<circle cx="638.20" cy="299.00" r="1.6" fill="#0808ff"/>
<circle cx="638.20" cy="304.00" r="1.6" fill="#0808ff"/>
<circle cx="638.20" cy="321.50" r="1.6" fill="#0808ff"/>
<circle cx="634.90" cy="332.50" r="1.6" fill="#0808ff"/>
<circle cx="640.40" cy="333.70" r="1.6" fill="#0808ff"/>
<circle cx="638.20" cy="339.20" r="1.6" fill="#0808ff"/>
<line x1="665.20" y1="338.10" x2="665.20" y2="328.40" stroke="#ff1010" stroke-width="0.9" />
<line x1="661.20" y1="328.40" x2="669.20" y2="328.40" stroke="#ff1010" stroke-width="0.9" />
<rect x="656.90" y="338.80" width="16.60" height="13.70" fill="#ff8080" stroke="#ff1010" stroke-width="1.4" />
<rect x="661.00" y="321.80" width="3.40" height="3.40" fill="#ff1010" stroke="none" stroke-width="0" />
<rect x="666.80" y="320.80" width="3.40" height="3.40" fill="#ff1010" stroke="none" stroke-width="0" />
<rect x="661.00" y="336.70" width="3.40" height="3.40" fill="#ff1010" stroke="none" stroke-width="0" />
<rect x="666.40" y="336.70" width="3.40" height="3.40" fill="#ff1010" stroke="none" stroke-width="0" />
<rect x="660.60" y="342.50" width="3.40" height="3.40" fill="#ff1010" stroke="none" stroke-width="0" />
<rect x="665.80" y="343.10" width="3.40" height="3.40" fill="#ff1010" stroke="none" stroke-width="0" />
<rect x="663.50" y="347.80" width="3.40" height="3.40" fill="#ff1010" stroke="none" stroke-width="0" />
<line x1="619.50" y1="256.33" x2="619.50" y2="353.20" stroke="#1e1e1e" stroke-width="1.4" />
<line x1="618.80" y1="352.50" x2="684.00" y2="352.50" stroke="#1e1e1e" stroke-width="1.4" />
<line x1="615.70" y1="352.50" x2="619.50" y2="352.50" stroke="#1e1e1e" stroke-width="1.3299999999999998" />
<text x="614.32" y="354.88" font-size="6.90" font-weight="bold" text-anchor="end" fill="#111" stroke="#111" stroke-width="0.15">0</text>
<line x1="615.70" y1="320.67" x2="619.50" y2="320.67" stroke="#1e1e1e" stroke-width="1.3299999999999998" />
<text x="614.31" y="323.05" font-size="6.90" font-weight="bold" text-anchor="end" fill="#111" stroke="#111" stroke-width="0.15">5000</text>
<line x1="615.70" y1="288.83" x2="619.50" y2="288.83" stroke="#1e1e1e" stroke-width="1.3299999999999998" />
<text x="614.28" y="291.21" font-size="6.90" font-weight="bold" text-anchor="end" fill="#111" stroke="#111" stroke-width="0.15">10000</text>
<line x1="615.70" y1="257.00" x2="619.50" y2="257.00" stroke="#1e1e1e" stroke-width="1.3299999999999998" />
<text x="614.28" y="259.38" font-size="6.90" font-weight="bold" text-anchor="end" fill="#111" stroke="#111" stroke-width="0.15">15000</text>
<line x1="638.10" y1="352.50" x2="638.10" y2="356.60" stroke="#1e1e1e" stroke-width="1.3299999999999998" />
<line x1="665.20" y1="352.50" x2="665.20" y2="356.60" stroke="#1e1e1e" stroke-width="1.3299999999999998" />
<text x="639.90" y="363.50" font-size="7.00" font-weight="bold" text-anchor="end" fill="#111" transform="rotate(-45 639.90 363.50)" >1wk Saline</text>
<text x="667.00" y="363.50" font-size="7.00" font-weight="bold" text-anchor="end" fill="#111" transform="rotate(-45 667.00 363.50)" >1wk DOX</text>
<polyline points="638.30,269.70 638.30,264.50 665.60,264.50 665.60,314.30" fill="none" stroke="#2a2a2a" stroke-width="1.1"/>
<text x="651.50" y="262.50" font-size="8.04" font-weight="bold" text-anchor="middle" fill="#111" style="font-family:'DejaVu Sans',sans-serif" stroke="#111" stroke-width="0.5" stroke-linejoin="round">*</text>
<text x="590.58" y="337.30" font-size="6.66" font-weight="bold" text-anchor="start" fill="#111" transform="rotate(-90 590.58 337.30)" textLength="66.10" lengthAdjust="spacingAndGlyphs" >Cells/mg Thymus</text>
</svg></body></html>
